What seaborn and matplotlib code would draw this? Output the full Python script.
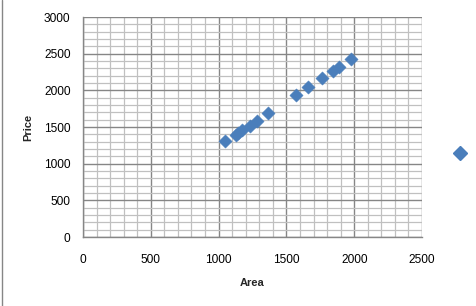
import matplotlib
matplotlib.use("Agg")
import matplotlib.pyplot as plt
import seaborn as sns
import pandas as pd
from matplotlib.ticker import MultipleLocator
from matplotlib.lines import Line2D

area = [1047, 1128, 1145, 1175, 1232, 1281, 1367, 1569, 1662, 1763, 1842, 1886, 1974]
price = [1309, 1391, 1418, 1459, 1518, 1586, 1695, 1932, 2045, 2164, 2268, 2322, 2423]
x_ticks = [0, 500, 1000, 1500, 2000, 2500]
y_ticks = [0, 500, 1000, 1500, 2000, 2500, 3000]

df = pd.DataFrame({"Area": area, "Price": price})

sns.set_style("white")
plt.rcParams['font.family'] = ['Liberation Sans', 'DejaVu Sans']

W, H = 477, 306
fig = plt.figure(figsize=(W / 100, H / 100), dpi=100)
ax = fig.add_axes([83 / W, 1 - 237 / H, (422 - 83) / W, (237 - 17) / H])

blue = "#4a7ebb"
sns.scatterplot(data=df, x="Area", y="Price", ax=ax, marker="D", s=46,
                color=blue, edgecolor=blue, linewidth=0.3, zorder=5, legend=False)

ax.set_xlim(0, 2500)
ax.set_ylim(0, 3000)
ax.set_xticks(x_ticks)
ax.set_yticks(y_ticks)
ax.xaxis.set_minor_locator(MultipleLocator(100))
ax.yaxis.set_minor_locator(MultipleLocator(100))
ax.grid(which="major", color="#868686", linewidth=1.0, zorder=1)
ax.grid(which="minor", color="#c0c0c0", linewidth=0.9, zorder=0)
ax.set_axisbelow(True)

for s in ["top", "right"]:
    ax.spines[s].set_visible(False)
for s in ["left", "bottom"]:
    ax.spines[s].set_color("#868686")
    ax.spines[s].set_linewidth(1.0)

ax.tick_params(axis="both", which="major", direction="out", length=4, width=1,
               color="#868686", labelsize=8.6, labelcolor="black")
ax.tick_params(axis="both", which="minor", length=0)
ax.tick_params(axis="y", pad=5)
ax.tick_params(axis="x", pad=8)

ax.set_xlabel("Area", fontsize=8, fontweight="bold", labelpad=8)
ax.set_ylabel("Price", fontsize=8, fontweight="bold", labelpad=18)
ax.yaxis.set_label_coords(-(83 - 28) / (422 - 83), 0.5)
ax.xaxis.set_label_coords(0.5, -(283 - 237) / (237 - 17))
ax.xaxis.label.set_va("center")
ax.yaxis.label.set_va("center")

handle = Line2D([], [], marker="D", linestyle="none", color=blue, markersize=6.8)
fig.legend(handles=[handle], labels=[""], loc="center", bbox_to_anchor=(460 / W, 1 - 154 / H),
           frameon=False, handlelength=0.8, handletextpad=0, borderpad=0)

fig.add_artist(Line2D([1.5 / W, 1.5 / W], [0, 1], color="#868686", linewidth=1.0))

fig.savefig("out.png", dpi=100)
